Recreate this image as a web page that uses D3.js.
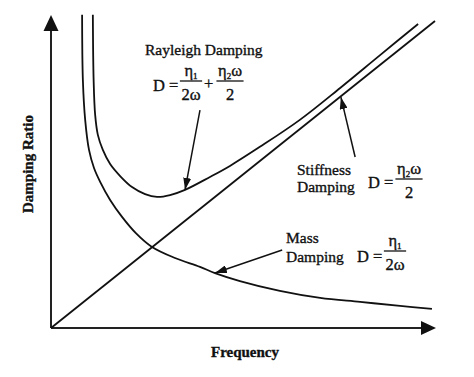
<!DOCTYPE html>
<html>
<head>
<meta charset="utf-8">
<script src="https://cdn.jsdelivr.net/npm/d3@7"></script>
<style>
  html, body { margin: 0; padding: 0; background: #fff; }
  svg text { font-family: "Liberation Serif", "Times New Roman", serif; fill: #111; stroke: #111; stroke-width: 0.35; }
</style>
</head>
<body>
<div id="chart"></div>
<script>
// frequency (omega) vs damping ratio (D)
const stiffnessLine = [[0, 0], [10, 10]];
const massCurve = [
  [0.81, 10.20], [0.83, 8.08], [0.89, 6.78], [0.99, 5.80], [1.12, 5.21],
  [1.28, 4.76], [1.54, 4.17], [1.85, 3.62], [2.21, 3.09], [2.63, 2.64],
  [3.23, 2.28], [3.88, 1.99], [4.27, 1.79], [4.92, 1.53], [5.96, 1.21],
  [7.01, 0.98], [8.05, 0.85], [9.09, 0.72], [9.92, 0.62]
];
const rayleighCurve = [
  [1.09, 10.20], [1.11, 8.08], [1.15, 6.94], [1.22, 6.29], [1.35, 5.80],
  [1.54, 5.34], [1.80, 4.95], [2.11, 4.59], [2.45, 4.36], [2.76, 4.27],
  [3.10, 4.33], [3.49, 4.50], [4.14, 4.92], [4.66, 5.28], [5.44, 5.90],
  [6.48, 6.78], [7.53, 7.82], [8.57, 8.89], [9.56, 9.90]
];
// annotation arrows: [from, to] in data units
const arrows = [
  [[3.88, 7.10], [3.49, 4.50]],   // Rayleigh
  [[7.92, 5.57], [7.55, 7.52]],   // Stiffness
  [[6.02, 2.54], [4.27, 1.79]]    // Mass
];

const width = 474, height = 377;
const svg = d3.select("#chart").append("svg")
  .attr("width", width).attr("height", height);

const x = d3.scaleLinear().domain([0, 10]).range([51, 435]);
const y = d3.scaleLinear().domain([0, 10]).range([328, 21]);

const defs = svg.append("defs");
defs.append("marker")
  .attr("id", "head")
  .attr("viewBox", "0 0 12 8")
  .attr("refX", 12).attr("refY", 4)
  .attr("markerWidth", 12).attr("markerHeight", 8)
  .attr("markerUnits", "userSpaceOnUse")
  .attr("orient", "auto")
  .append("path").attr("d", "M0,0 L12,4 L0,8 Z").attr("fill", "#111");

// axes (plain lines with triangular heads)
const axisColor = "#222";
svg.append("line")
  .attr("x1", x(0)).attr("y1", y(0)).attr("x2", x(0)).attr("y2", 28)
  .attr("stroke", axisColor).attr("stroke-width", 2);
svg.append("path")
  .attr("d", `M${x(0)},15 L${x(0) - 7.5},31 L${x(0) + 7.5},31 Z`)
  .attr("fill", "#111");
svg.append("line")
  .attr("x1", x(0)).attr("y1", y(0)).attr("x2", 424).attr("y2", y(0))
  .attr("stroke", axisColor).attr("stroke-width", 2);
svg.append("path")
  .attr("d", `M436,${y(0)} L421,${y(0) - 7} L421,${y(0) + 7} Z`)
  .attr("fill", "#111");

// curves
const line = d3.line().x(d => x(d[0])).y(d => y(d[1]))
  .curve(d3.curveCatmullRom.alpha(0.5));

[stiffnessLine, massCurve, rayleighCurve].forEach(pts => {
  svg.append("path")
    .attr("d", line(pts))
    .attr("fill", "none")
    .attr("stroke", "#111")
    .attr("stroke-width", 1.8);
});

// annotation arrows
svg.append("g").selectAll("line")
  .data(arrows)
  .join("line")
  .attr("x1", d => x(d[0][0])).attr("y1", d => y(d[0][1]))
  .attr("x2", d => x(d[1][0])).attr("y2", d => y(d[1][1]))
  .attr("stroke", "#111").attr("stroke-width", 1.5)
  .attr("marker-end", "url(#head)");

// axis titles
svg.append("text")
  .attr("x", 245).attr("y", 357)
  .attr("text-anchor", "middle")
  .attr("font-size", 15).attr("font-weight", "bold")
  .text("Frequency");
svg.append("text")
  .attr("transform", "translate(33,164) rotate(-90)")
  .attr("text-anchor", "middle")
  .attr("font-size", 15).attr("font-weight", "bold")
  .text("Damping Ratio");

// labels
function label(tx, ty, lines, lh) {
  const t = svg.append("text").attr("font-size", 15.5);
  lines.forEach((s, i) => {
    t.append("tspan").attr("x", tx).attr("y", ty + i * lh).text(s);
  });
}
label(145, 55, ["Rayleigh Damping"], 0);
label(297, 175, ["Stiffness", "Damping"], 17);
label(286, 243, ["Mass", "Damping"], 19);

// formula pieces: each part is [text, isSubscript]
function parts(t, list) {
  let down = false;
  list.forEach(([s, sub]) => {
    const ts = t.append("tspan").text(s);
    if (sub) { ts.attr("font-size", 9).attr("dy", 3); down = true; }
    else if (down) { ts.attr("dy", -3); down = false; }
  });
}
function fraction(cx, barY, num, den, fs) {
  const n = svg.append("text").attr("x", cx).attr("y", barY - 5)
    .attr("text-anchor", "middle").attr("font-size", fs);
  parts(n, num);
  const d = svg.append("text").attr("x", cx).attr("y", barY + 19)
    .attr("text-anchor", "middle").attr("font-size", fs);
  parts(d, den);
  const w = Math.max(n.node().getBBox().width, d.node().getBBox().width) + 3;
  svg.append("line")
    .attr("x1", cx - w / 2).attr("x2", cx + w / 2)
    .attr("y1", barY).attr("y2", barY)
    .attr("stroke", "#111").attr("stroke-width", 1.3);
}
function plain(tx, ty, s, fs) {
  svg.append("text").attr("x", tx).attr("y", ty).attr("font-size", fs).text(s);
}

const fs = 16.5;
// Rayleigh: D = eta1/(2 omega) + eta2 omega / 2
plain(153, 91, "D =", fs);
fraction(191, 81, [["\u03b7", 0], ["1", 1]], [["2\u03c9", 0]], fs);
plain(204, 89, "+", fs);
fraction(230, 81, [["\u03b7", 0], ["2", 1], ["\u03c9", 0]], [["2", 0]], fs);

// Stiffness: D = eta2 omega / 2
plain(368, 188, "D =", fs);
fraction(409, 179, [["\u03b7", 0], ["2", 1], ["\u03c9", 0]], [["2", 0]], fs);

// Mass: D = eta1 / (2 omega)
plain(357, 262, "D =", fs);
fraction(395, 251, [["\u03b7", 0], ["1", 1]], [["2\u03c9", 0]], fs);
</script>
</body>
</html>
